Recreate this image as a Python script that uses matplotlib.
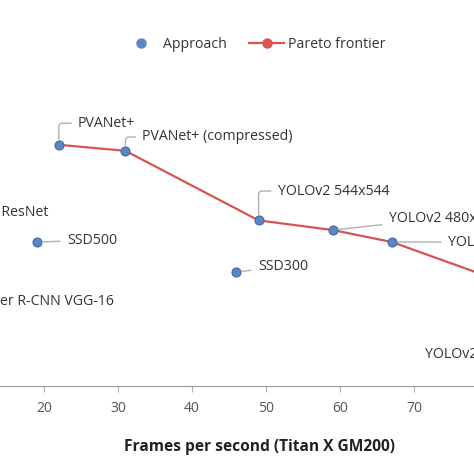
import numpy as np
import matplotlib
matplotlib.use("Agg")
import matplotlib.pyplot as plt
from matplotlib.lines import Line2D

plt.rcParams['font.family'] = ['Open Sans', 'DejaVu Sans']

# approaches (fps on Titan X, mAP on VOC 2007)
names = ["Faster R-CNN VGG-16", "Faster R-CNN ResNet", "SSD300", "SSD500",
         "YOLOv2 288x288", "YOLOv2 352x352", "YOLOv2 416x416",
         "YOLOv2 480x480", "YOLOv2 544x544", "PVANet+", "PVANet+ (compressed)"]
fps = [7, 5, 46, 19, 91, 81, 67, 59, 49, 22, 31]
mAP = [73.2, 76.4, 74.3, 76.8, 69.0, 73.7, 76.8, 77.8, 78.6, 84.9, 84.4]

# pareto frontier
pareto_fps = [22, 31, 49, 59, 67, 81, 91]
pareto_map = [84.9, 84.4, 78.6, 77.8, 76.8, 73.7, 69.0]

# label places (x, y in data units) and leader style
label_xy = [(29.4, 71.85), (20.6, 79.3), (48.9, 74.75), (23.1, 76.95),
            (71.5, 67.45), (86, 72), (74.6, 76.8), (66.6, 78.8), (51.6, 81.05),
            (24.6, 86.7), (33.3, 85.55)]
label_ha = ['right', 'right', 'left', 'left', 'left', 'left', 'left',
            'left', 'left', 'left', 'left']
leader = [False, False, True, True, False, False, True, True, True, True, True]
elbow = [False, False, False, False, False, False, False,
         False, True, True, True]

fig = plt.figure(figsize=(4.74, 4.74), dpi=100)
ax = fig.add_axes([0, 1 - 386 / 474, 1, 386 / 474])

blue = '#5a86c6'
red = '#d9534f'

ax.plot(pareto_fps, pareto_map, color=red, lw=1.6, zorder=2)
ax.scatter(fps, mAP, s=42, color=blue, edgecolor='#3f6aa8', lw=0.8, zorder=3)

for i, n in enumerate(names):
    cs = 'angle,angleA=0,angleB=90,rad=4' if elbow[i] else 'arc3'
    props = None
    if leader[i]:
        props = dict(arrowstyle='-', color='#b0b0b0', lw=1.0,
                     connectionstyle=cs, shrinkA=3, shrinkB=4)
    ax.annotate(n, xy=(fps[i], mAP[i]), xytext=label_xy[i], ha=label_ha[i],
                va='center', fontsize=10.2, color='#333333',
                arrowprops=props, annotation_clip=False)

for s in ['top', 'right', 'left']:
    ax.spines[s].set_visible(False)
ax.spines['bottom'].set_color('#9a9a9a')
ax.set_yticks([])
ax.set_xticks([20, 30, 40, 50, 60, 70, 80])
ax.tick_params(axis='x', colors='#b0b0b0', length=4, labelsize=10,
               labelcolor='#555555', pad=7)

# the picture is a crop of a wider chart
x0 = 20 - 44 / 7.4
ax.set_xlim(x0, x0 + 474 / 7.4)
ax.set_ylim(76.8 - 144 / 12, 76.8 + 242 / 12)

handles = [Line2D([], [], ls='none', marker='o', color=blue, markersize=6.5),
           Line2D([], [], color=red, lw=1.6, marker='o', markersize=6.5)]
fig.legend(handles, ['Approach', 'Pareto frontier'], loc='center',
           bbox_to_anchor=(0.537, 0.907), ncol=2, frameon=False,
           fontsize=10.2, handlelength=2.5, handletextpad=0.25,
           columnspacing=1.6, labelcolor='#333333')

fig.text(0.5475, 1 - 447 / 474, 'Frames per second (Titan X GM200)',
         ha='center', va='center', fontsize=11.2, fontweight='bold',
         color='#222222')

plt.savefig('out.png', dpi=100)
